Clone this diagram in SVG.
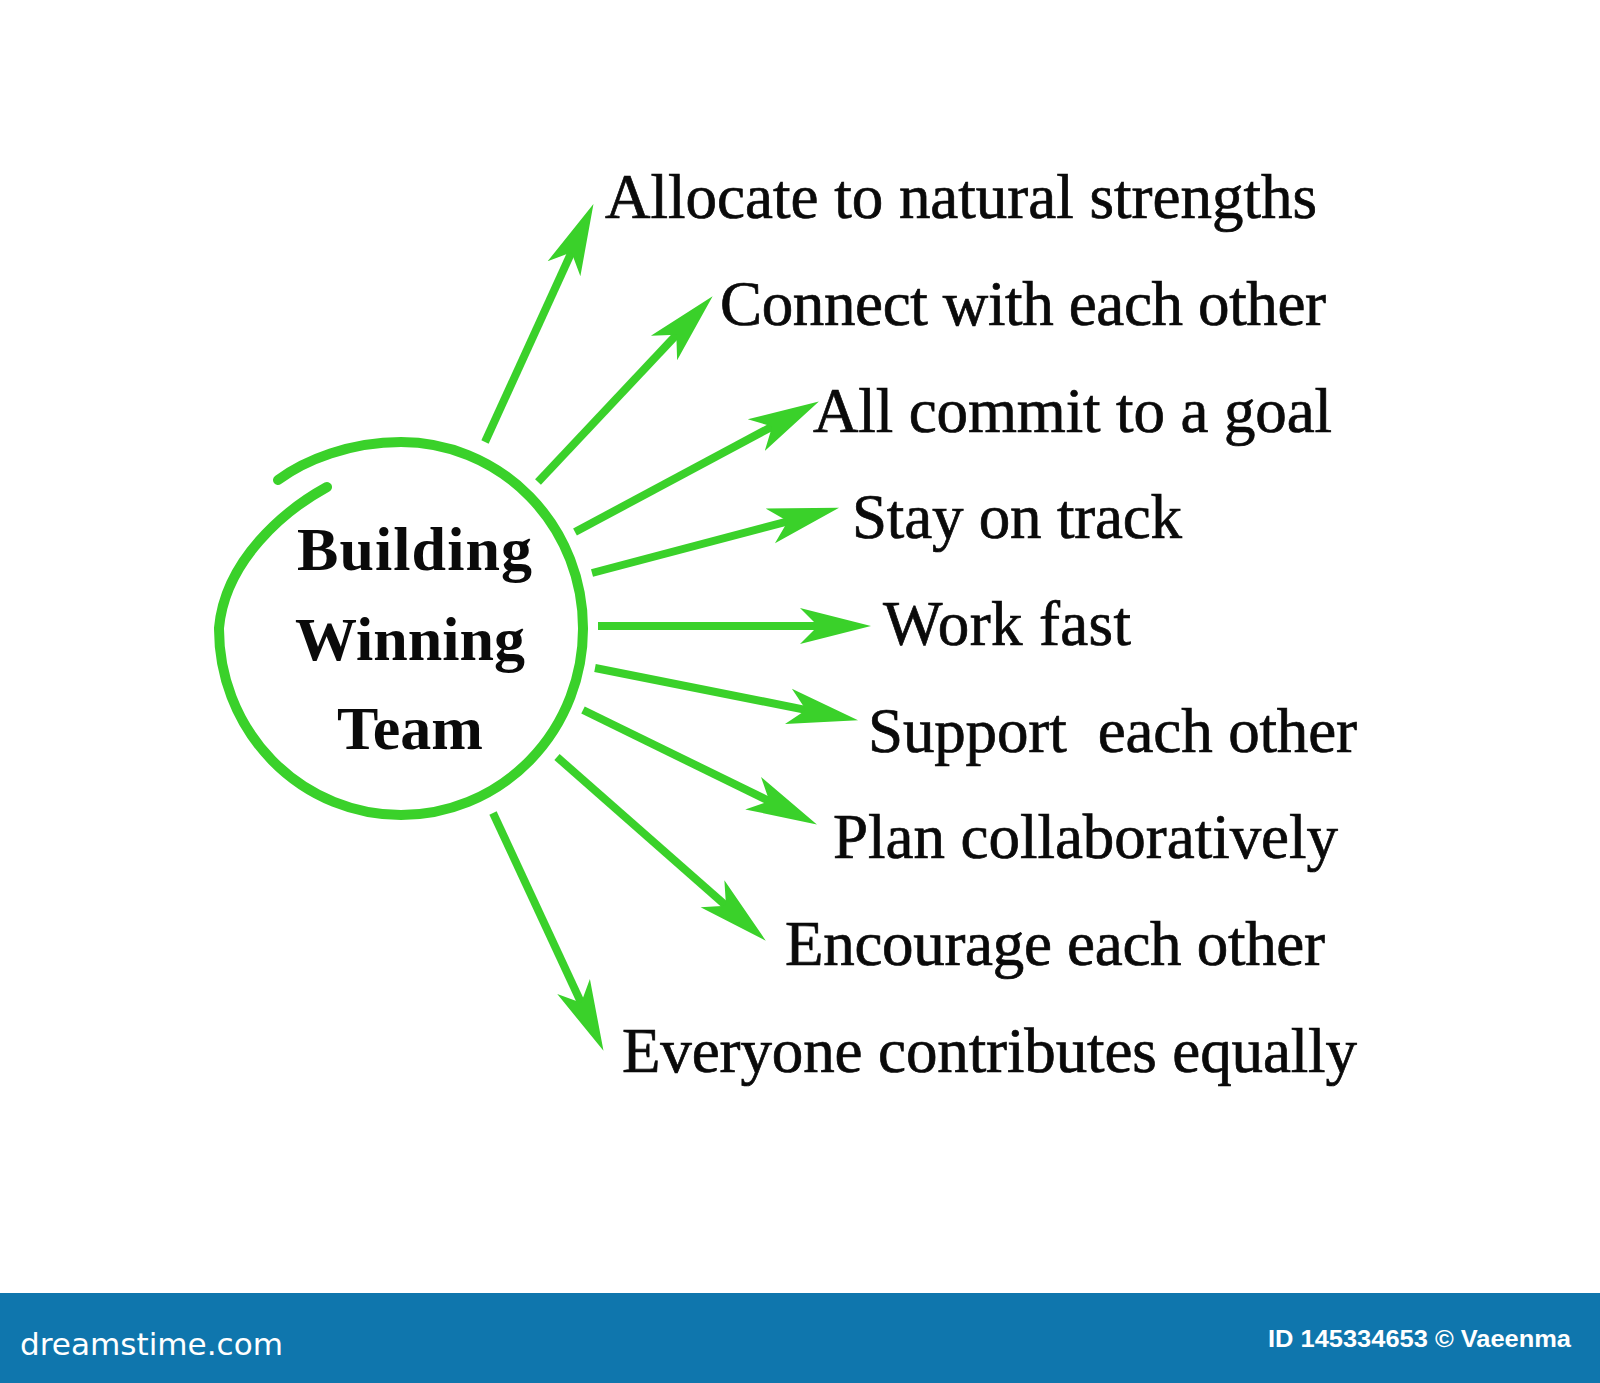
<svg xmlns="http://www.w3.org/2000/svg" width="1600" height="1383" viewBox="0 0 1600 1383">
<style>
.lbl{font-family:"Liberation Serif","Times New Roman",serif;font-size:63px;fill:#0a0a0a;stroke:#0a0a0a;stroke-width:0.7px}
.ctr{font-family:"Liberation Serif","Times New Roman",serif;font-size:62px;font-weight:bold;fill:#0a0a0a}
.conn line{stroke:#3ad12a;stroke-width:8;fill:none;marker-end:url(#arr)}
</style>
<defs>
<marker id="arr" markerUnits="userSpaceOnUse" markerWidth="72" markerHeight="40" viewBox="0 0 72 40" refX="20" refY="20" orient="auto">
<path d="M71,20 L0,2 L18,20 L0,38 Z" fill="#3ad12a"/>
</marker>
</defs>
<rect x="0" y="0" width="1600" height="1383" fill="#ffffff"/>
<g id="center">
<path d="M327,487 C285,510 225,560 219,628 A182 186 0 0 0 401 815 A182 186 0 0 0 583 628 A182 186 0 0 0 401 442 C350,442 305,460 278,480" fill="none" stroke="#3ad12a" stroke-width="10" stroke-linecap="round"/>
<text class="ctr" x="297" y="570" textLength="235" lengthAdjust="spacing">Building</text>
<text class="ctr" x="295" y="660" textLength="230" lengthAdjust="spacing">Winning</text>
<text class="ctr" x="337" y="749" textLength="146" lengthAdjust="spacing">Team</text>
</g>
<g id="connectors" class="conn">
<line x1="485" y1="442" x2="572.3" y2="250.5"/>
<line x1="538" y1="482" x2="677.7" y2="333.4"/>
<line x1="575" y1="532" x2="773.9" y2="425.6"/>
<line x1="592" y1="573" x2="789.7" y2="520.8"/>
<line x1="598" y1="626" x2="820" y2="626"/>
<line x1="595" y1="668" x2="808" y2="710.3"/>
<line x1="583" y1="710" x2="771.1" y2="802"/>
<line x1="557" y1="757" x2="727.5" y2="907"/>
<line x1="493" y1="813" x2="582" y2="1004.6"/>
</g>
<g id="n1"><text class="lbl" x="605" y="218" textLength="712" lengthAdjust="spacing">Allocate to natural strengths</text></g>
<g id="n2"><text class="lbl" x="720" y="325" textLength="606" lengthAdjust="spacing">Connect with each other</text></g>
<g id="n3"><text class="lbl" x="813" y="432" textLength="519" lengthAdjust="spacing">All commit to a goal</text></g>
<g id="n4"><text class="lbl" x="852" y="538" textLength="330" lengthAdjust="spacing">Stay on track</text></g>
<g id="n5"><text class="lbl" x="883" y="645" textLength="248" lengthAdjust="spacing">Work fast</text></g>
<g id="n6"><text class="lbl" x="868" y="752" textLength="489" lengthAdjust="spacing" xml:space="preserve">Support  each other</text></g>
<g id="n7"><text class="lbl" x="833" y="858" textLength="505" lengthAdjust="spacing">Plan collaboratively</text></g>
<g id="n8"><text class="lbl" x="785" y="965" textLength="540" lengthAdjust="spacing">Encourage each other</text></g>
<g id="n9"><text class="lbl" x="622" y="1072" textLength="735" lengthAdjust="spacing">Everyone contributes equally</text></g>
<g id="footer">
<rect x="0" y="1293" width="1600" height="90" fill="#0f76ad"/>
<text x="20" y="1355" font-family="'DejaVu Sans',sans-serif" font-size="31" fill="#ffffff" textLength="263" lengthAdjust="spacingAndGlyphs">dreamstime.com</text>
<text x="1268" y="1347" font-family="'Liberation Sans',Arial,sans-serif" font-size="24" font-weight="bold" fill="#ffffff" textLength="303" lengthAdjust="spacingAndGlyphs">ID 145334653 © Vaeenma</text>
</g>
</svg>
